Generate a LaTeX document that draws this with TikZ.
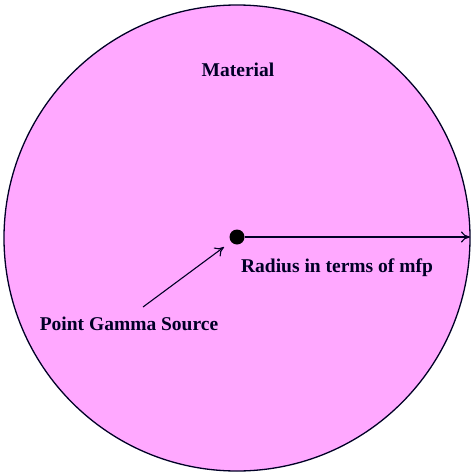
\documentclass[tikz,border=0pt]{standalone}
\usepackage{fontspec}
\setmainfont{Liberation Serif}
\usetikzlibrary{arrows.meta}
\definecolor{matpink}{RGB}{255,168,255}
\begin{document}
\begin{tikzpicture}[x=1pt,y=-1pt,
  lbl/.style={font=\fontsize{19.5}{22}\selectfont\bfseries, text=black!85!blue, inner sep=0pt},
  arr/.style={-{To[length=9pt,width=11pt]}, line width=1.1pt, draw=black!85!blue}]
\useasboundingbox (0,0) rectangle (474,474);
\node[circle, draw=black!85!blue, line width=1.3pt, fill=matpink, minimum size=466pt, inner sep=0pt] (mat) at (237,238) {};
\node[circle, fill=black, minimum size=15pt, inner sep=0pt] (src) at (237,237) {};
\coordinate (edge) at (470,237);
\draw[arr] (src.east) -- (edge);
\node[lbl] (mlabel) at (238,70) {Material};
\node[lbl] (rlabel) at (337,268) {Radius in terms of mfp};
\node[lbl] (plabel) at (129,324) {Point Gamma Source};
\coordinate (ptail) at (143,307);
\coordinate (phead) at (224,247);
\draw[arr] (ptail) -- (phead);
\end{tikzpicture}
\end{document}
